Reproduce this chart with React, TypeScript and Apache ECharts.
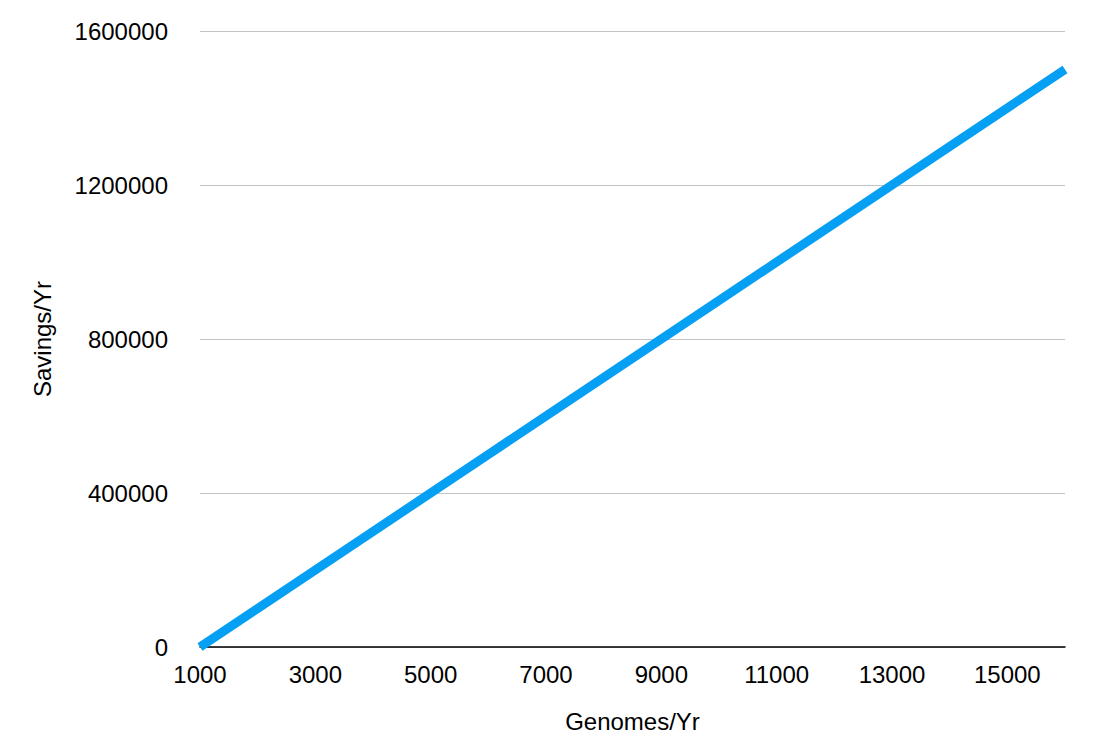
import React, { useEffect, useRef } from 'react';
import * as echarts from 'echarts';

// genomes per year (x axis categories)
const genomes = [1000, 2000, 3000, 4000, 5000, 6000, 7000, 8000, 9000, 10000, 11000, 12000, 13000, 14000, 15000, 16000];
// savings per year
const savings = [0, 100000, 200000, 300000, 400000, 500000, 600000, 700000, 800000, 900000, 1000000, 1100000, 1200000, 1300000, 1400000, 1500000];

const FONT = '"Liberation Sans", Arial, Helvetica, sans-serif';

const App: React.FC = () => {
  const chartRef = useRef<HTMLDivElement>(null);

  useEffect(() => {
    if (!chartRef.current) return;
    const chart = echarts.init(chartRef.current, undefined, { renderer: 'svg' });

    const option: echarts.EChartsOption = {
      animation: false,
      textStyle: { fontFamily: FONT },
      grid: {
        left: 200,
        right: 35,
        top: 31,
        bottom: 99,
      },
      xAxis: {
        type: 'category',
        boundaryGap: false,
        data: genomes.map(String),
        name: 'Genomes/Yr',
        nameLocation: 'middle',
        nameGap: 62,
        nameTextStyle: { color: '#000', fontSize: 24, fontFamily: FONT },
        axisLine: { lineStyle: { color: '#000', width: 1.5 } },
        axisTick: { show: false },
        axisLabel: {
          interval: 1,
          color: '#000',
          fontSize: 24,
          margin: 15,
          fontFamily: FONT,
        },
        splitLine: { show: false },
      },
      yAxis: {
        type: 'value',
        min: 0,
        max: 1600000,
        interval: 400000,
        name: 'Savings/Yr',
        nameLocation: 'middle',
        nameGap: 146,
        nameTextStyle: { color: '#000', fontSize: 24, fontFamily: FONT },
        axisLine: { show: false },
        axisTick: { show: false },
        axisLabel: {
          color: '#000',
          fontSize: 24,
          margin: 32,
          fontFamily: FONT,
          formatter: (v: number) => String(v),
        },
        splitLine: { lineStyle: { color: '#c4c4c4', width: 1 } },
      },
      series: [
        {
          type: 'line',
          data: savings,
          symbol: 'none',
          lineStyle: { color: '#05a0f3', width: 9, cap: 'butt' },
          z: 3,
        },
      ],
    };

    chart.setOption(option);
    return () => {
      chart.dispose();
    };
  }, []);

  return (
    <div
      ref={chartRef}
      style={{ position: 'absolute', left: 0, top: 0, width: 1100, height: 746, background: '#fff' }}
    />
  );
};

export default App;
